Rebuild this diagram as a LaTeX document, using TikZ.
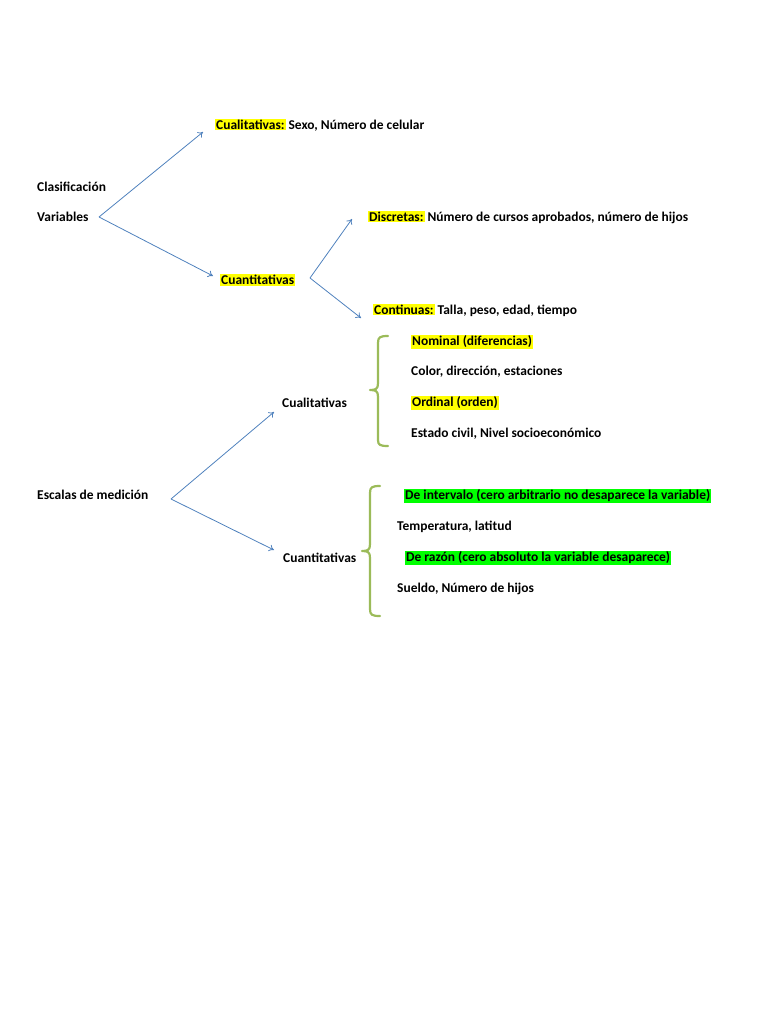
\documentclass[tikz,border=0pt]{standalone}
\usetikzlibrary{arrows.meta}
\usepackage{fontspec}
\setmainfont{Carlito}
\usepackage{xcolor}
\definecolor{arr}{RGB}{79,129,189}
\definecolor{brc}{RGB}{155,187,89}
\definecolor{hy}{RGB}{255,255,0}
\definecolor{hg}{RGB}{0,255,0}
\newcommand{\hly}[1]{{\setlength{\fboxsep}{1pt}\colorbox{hy}{#1}}}
\newcommand{\hlg}[1]{{\setlength{\fboxsep}{1pt}\colorbox{hg}{#1}}}
\begin{document}
\begin{tikzpicture}[x=1bp,y=-1bp,
  lbl/.style={anchor=west,inner sep=0pt,font=\fontsize{13.5}{15}\selectfont\bfseries},
  arrow/.style={draw=arr,line width=0.8bp,-{To[length=5bp,width=7bp]}},
  brace/.style={draw=brc,line width=2.2bp,line cap=round,line join=round}]
\useasboundingbox (0,0) rectangle (768,1024);
\node[lbl] (clas) at (37,187) {Clasificación};
\node[lbl] (var) at (37,217) {Variables};
\node[lbl] (cual1) at (215,125) {\hly{Cualitativas:} Sexo, Número de celular};
\node[lbl] (cuan1) at (220,280) {\hly{Cuantitativas}};
\node[lbl] (disc) at (368,217) {\hly{Discretas:} Número de cursos aprobados, número de hijos};
\node[lbl] (cont) at (373,310) {\hly{Continuas:} Talla, peso, edad, tiempo};
\coordinate (v0) at (99,217);
\coordinate (c0) at (310,278);
\draw[arrow] (v0) -- (203,132) coordinate (a1);
\draw[arrow] (v0) -- (213,276) coordinate (a2);
\draw[arrow] (c0) -- (352,219) coordinate (a3);
\draw[arrow] (c0) -- (361,318) coordinate (a4);

\node[lbl] (esc) at (37,495) {Escalas de medición};
\node[lbl] (cual2) at (282,403) {Cualitativas};
\node[lbl] (cuan2) at (283,558) {Cuantitativas};
\coordinate (e0) at (171,499);
\draw[arrow] (e0) -- (274,412) coordinate (a5);
\draw[arrow] (e0) -- (274,550) coordinate (a6);

\node[lbl] (nom) at (411,342) {\hly{Nominal (diferencias)}};
\node[lbl] (col) at (411,372) {Color, dirección, estaciones};
\node[lbl] (ord) at (411,403) {\hly{Ordinal (orden)}};
\node[lbl] (est) at (411,434) {Estado civil, Nivel socioeconómico};

\node[lbl] (int) at (404,496) {\hlg{De intervalo (cero arbitrario no desaparece la variable)}};
\node[lbl] (tem) at (397,527) {Temperatura, latitud};
\node[lbl] (raz) at (405,558) {\hlg{De razón (cero absoluto la variable desaparece)}};
\node[lbl] (sue) at (397,589) {Sueldo, Número de hijos};

\draw[brace] (388,336) .. controls (380,336) and (378,337) .. (378,343)
  -- (378,383) .. controls (378,389) and (376,390) .. (370,390)
  .. controls (376,390) and (378,391) .. (378,397)
  -- (378,440) .. controls (378,445) and (380,446) .. (388,446);
\draw[brace] (380,486) .. controls (372,486) and (370,487) .. (370,493)
  -- (370,544) .. controls (370,550) and (368,551) .. (362,551)
  .. controls (368,551) and (370,552) .. (370,558)
  -- (370,609) .. controls (370,615) and (372,616) .. (380,616);
\end{tikzpicture}
\end{document}
